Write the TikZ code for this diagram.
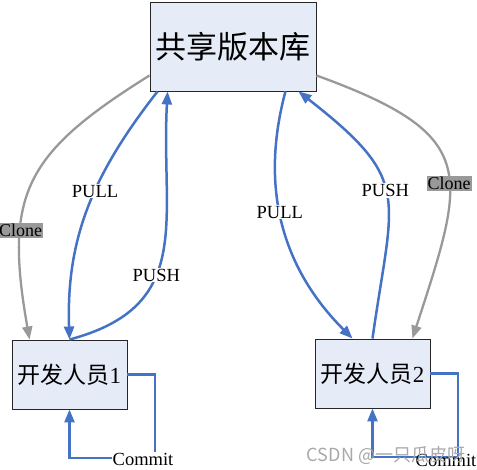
\documentclass[tikz,border=0pt]{standalone}
\usepackage{fontspec}
\setmainfont{Liberation Serif}
\newfontfamily\cjk{Noto Sans CJK SC}
\usetikzlibrary{arrows.meta}

\definecolor{boxfill}{HTML}{E6ECF7}
\definecolor{flowblue}{HTML}{4472C4}
\definecolor{clonegray}{HTML}{999999}
\definecolor{markgray}{HTML}{A8A8A8}

\tikzset{
    box/.style = {draw = black!85, fill = boxfill, line width = 0.9pt, inner sep = 0pt},
    flow/.style = {draw = flowblue, line width = 2.5pt, -{Triangle[length = 13pt, width = 10pt]}},
    clone/.style = {draw = clonegray, line width = 2.3pt, -{Triangle[length = 13pt, width = 10pt]}},
    lbl/.style = {fill = white, inner sep = 1pt, font = \fontsize{18.5}{18.5}\selectfont},
    clonelbl/.style = {fill = clonegray, inner sep = 1pt, font = \fontsize{18}{18}\selectfont}
}

\begin{document}
\begin{tikzpicture}[x = 1pt, y = 1pt]
        % рамка
        \useasboundingbox ( 0, 0 ) rectangle ( 477, 470 );

        % блоки
        \node [box, minimum width = 166pt, minimum height = 89pt] (repo) at ( 233, 423.5 )
            {\fontsize{31}{31}\selectfont\cjk 共享版本库};
        \node [box, minimum width = 115pt, minimum height = 69pt] (dev1) at ( 69.5, 95.5 )
            {\fontsize{23}{23}\selectfont{\cjk 开发人员}1};
        \node [box, minimum width = 115pt, minimum height = 69pt] (dev2) at ( 372.5, 96.5 )
            {\fontsize{23}{23}\selectfont{\cjk 开发人员}2};

        % clone
        \draw [clone] ([yshift = 16pt]repo.south west) to [out = 212, in = 100, looseness = 1.3]
            node [clonelbl, pos = 0.69] (clone1) {Clone} ([xshift = 18pt]dev1.north west);
        \draw [clone] ([yshift = 16pt]repo.south east) to [out = -20, in = 72, looseness = 1.6]
            node [clonelbl, pos = 0.57] (clone2) {Clone} ([xshift = -18pt]dev2.north east);

        % pull / push
        \draw [flow] ([xshift = 8pt]repo.south west) to [out = 232, in = 92]
            node [lbl, pos = 0.43] (pull1) {PULL} (dev1.north);
        \draw [flow] (dev1.north) to [out = 15, in = -93, looseness = 1.25]
            node [lbl, pos = 0.4] (push1) {PUSH} ([xshift = 18pt]repo.south west);
        \draw [flow] ([xshift = -31pt]repo.south east) to [out = 255, in = 135]
            node [lbl, pos = 0.45] (pull2) {PULL} ([xshift = -20pt]dev2.north);
        \draw [flow] (dev2.north) to [out = 82, in = -38, looseness = 1.45]
            node [lbl, pos = 0.52] (push2) {PUSH} ([xshift = -18pt]repo.south east);

        % commit
        \coordinate (c1) at ( 155, 12 );
        \coordinate (c2) at ( 458, 13 );
        \draw [flow] (dev1.east) -| (c1) -| (dev1.south);
        \draw [flow] (dev2.east) -| (c2) -| (dev2.south);
        \node [lbl, inner sep = 0.5pt] (commit1) at ( 143, 11 ) {Commit};
        \node [lbl, fill = none, inner sep = 0.5pt] (commit2) at ( 446, 10 ) {Commit};

        % водяной знак
        \node [text = markgray, font = \fontsize{18}{18}\selectfont\cjk] (mark) at ( 386, 15 ) {CSDN @一只瓜皮呀};
    \end{tikzpicture}
\end{document}
